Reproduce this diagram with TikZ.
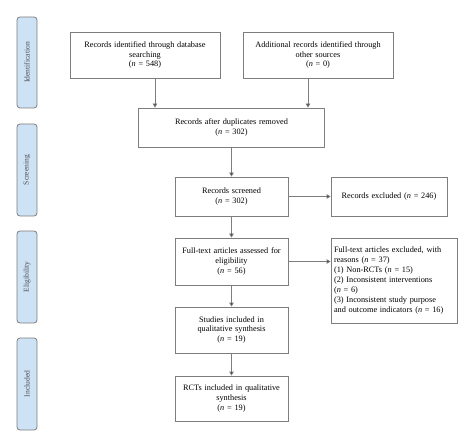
\documentclass[tikz,border=0pt]{standalone}
\usepackage{fontspec}
\setmainfont{Liberation Serif}
\usetikzlibrary{arrows.meta}

\definecolor{barblue}{RGB}{206,226,245}
\definecolor{linegray}{RGB}{125,125,125}
\newcommand{\nn}{\textit{n}}

\begin{document}
\begin{tikzpicture}[
  x=1bp, y=-1bp,
  font=\fontsize{8.3}{10}\selectfont,
  box/.style={draw=linegray, line width=0.8bp, align=center, inner sep=2bp},
  stage/.style={draw=linegray, fill=barblue, rounded corners=3bp, line width=0.8bp,
    minimum width=20bp, text=black!70, font=\fontsize{7.6}{8}\selectfont},
  arr/.style={draw=linegray, line width=0.8bp, -{Triangle[length=4bp,width=4.5bp,fill=black!85]}}]

  \useasboundingbox (0,0) rectangle (474,447);

  % stage bars on the left
  \node[stage, minimum height=91bp] (ident) at (27,62.5) {\rotatebox{90}{Identification}};
  \node[stage, minimum height=92bp] (screen) at (27,170) {\rotatebox{90}{Screening}};
  \node[stage, minimum height=92bp] (elig) at (27,277) {\rotatebox{90}{Eligibility}};
  \node[stage, minimum height=92bp] (incl) at (27,384) {\rotatebox{90}{Included}};

  % boxes
  \node[box, text width=146bp, minimum height=46bp] (dbase) at (145,55)
    {Records identified through database\\ searching\\ (\nn{} = 548)};
  \node[box, text width=146bp, minimum height=46bp] (other) at (318,55)
    {Additional records identified through\\ other sources\\ (\nn{} = 0)};
  \node[box, text width=182bp, minimum height=39bp] (dupl) at (231.5,127.5)
    {Records after duplicates removed\\ (\nn{} = 302)};
  \node[box, text width=109bp, minimum height=39bp] (scrnd) at (231.5,196.5)
    {Records screened\\ (\nn{} = 302)};
  \node[box, text width=112bp, minimum height=39bp] (recex) at (389,196.5)
    {Records excluded (\nn{} = 246)};
  \node[box, text width=109bp, minimum height=47bp] (fulltxt) at (231.5,261.5)
    {Full-text articles assessed for\\ eligibility\\ (\nn{} = 56)};
  \node[box, text width=120bp, minimum height=85bp, align=left, inner sep=3bp] (fullex) at (394,280.5)
    {Full-text articles excluded, with\\ reasons (\nn{} = 37)\\
     (1) Non-RCTs (\nn{} = 15)\\
     (2) Inconsistent interventions\\ (\nn{} = 6)\\
     (3) Inconsistent study purpose\\ and outcome indicators (\nn{} = 16)};
  \node[box, text width=109bp, minimum height=46bp] (qual) at (231.5,330)
    {Studies included in\\ qualitative synthesis\\ (\nn{} = 19)};
  \node[box, text width=109bp, minimum height=45bp] (rcts) at (231.5,398.5)
    {RCTs included in qualitative\\ synthesis\\ (\nn{} = 19)};

  % connectors
  \draw[arr] ([xshift=10bp]dbase.south) -- ([xshift=10bp]dbase.south |- dupl.north);
  \draw[arr] ([xshift=-10bp]other.south) -- ([xshift=-10bp]other.south |- dupl.north);
  \draw[arr] (dupl) -- (scrnd);
  \draw[arr] (scrnd) -- (recex);
  \draw[arr] (scrnd) -- (fulltxt);
  \draw[arr] (fulltxt) -- (fulltxt -| fullex.west);
  \draw[arr] (fulltxt) -- (qual);
  \draw[arr] (qual) -- (rcts);
\end{tikzpicture}
\end{document}
